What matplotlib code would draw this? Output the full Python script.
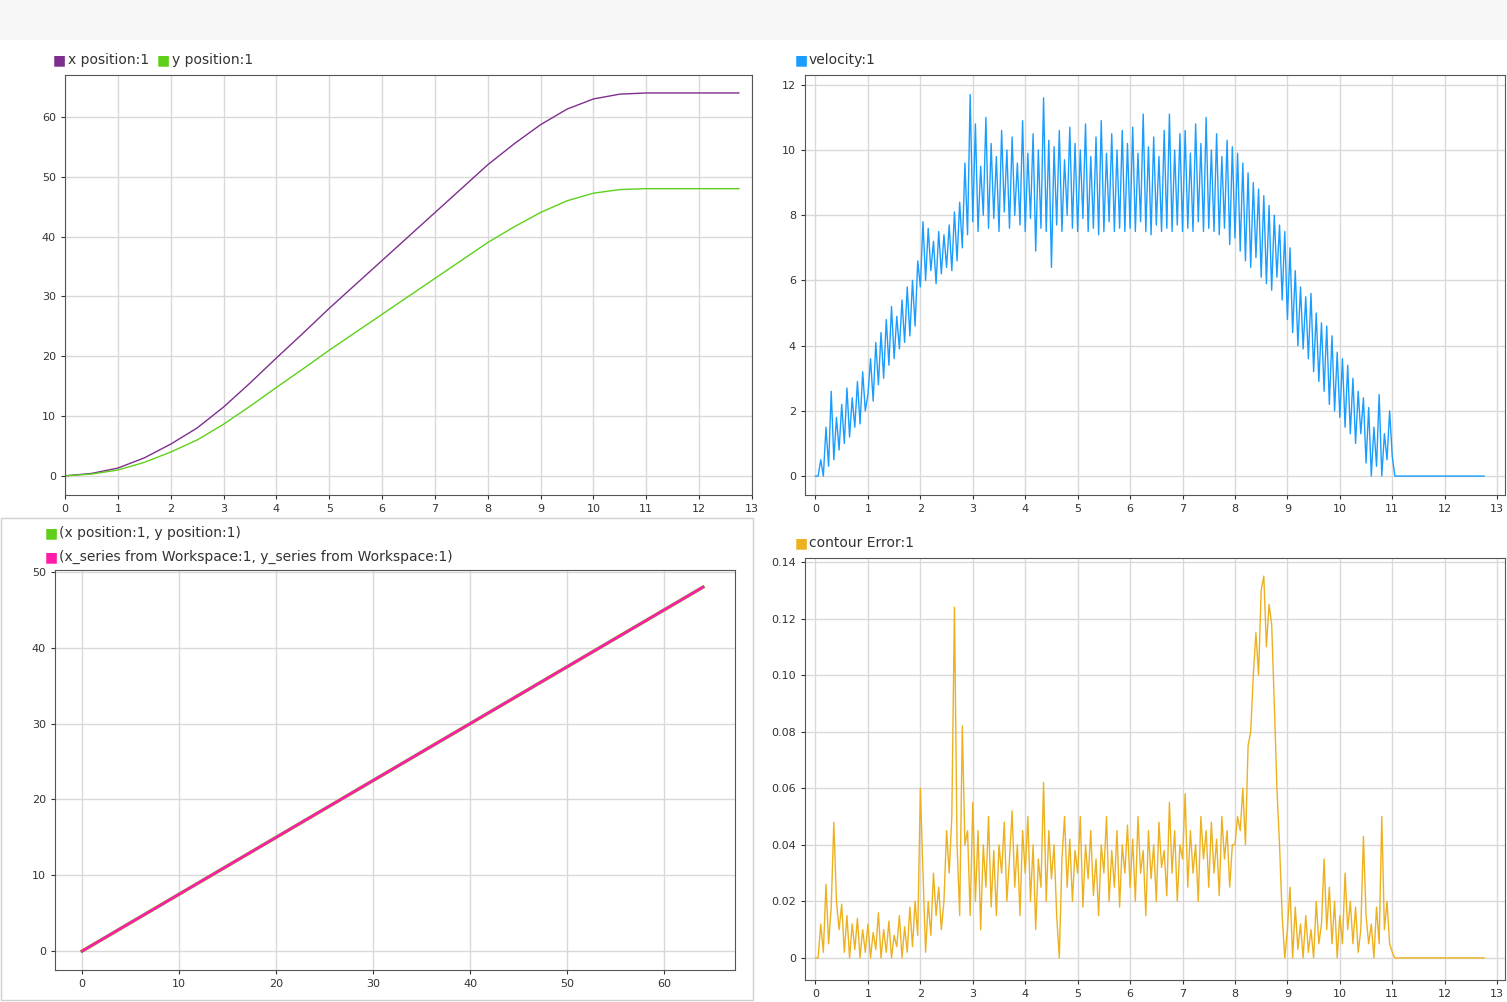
import numpy as np
import matplotlib.pyplot as plt
from matplotlib.patches import Rectangle

# 位置数据 (每0.5秒一个点)
t_pos = [0, 0.5, 1, 1.5, 2, 2.5, 3, 3.5, 4, 4.5, 5, 5.5, 6, 6.5, 7, 7.5, 8, 8.5, 9, 9.5, 10, 10.5, 11, 12.75]
x_pos = [0, 0.4, 1.3, 3, 5.3, 8, 11.5, 15.5, 19.7, 23.8, 28, 32, 36, 40, 44, 48, 52, 55.5, 58.7, 61.3, 63, 63.8, 64, 64]
y_pos = [0, 0.3, 0.975, 2.25, 3.975, 6, 8.625, 11.625, 14.775, 17.85, 21, 24, 27, 30, 33, 36, 39, 41.625, 44.025,
         45.975, 47.25, 47.85, 48, 48]

# 速度 (每0.05秒一个点)
velocity = [
    0, 0, 0.5, 0, 1.5, 0.3, 2.6, 0.5, 1.8, 0.8, 2.2, 1, 2.7, 1.2, 2.4, 1.5, 2.9, 1.6, 3.2, 2.0,
    2.5, 3.6, 2.3, 4.1, 2.8, 4.4, 3.0, 4.8, 3.4, 5.2, 3.6, 4.9, 3.9, 5.4, 4.1, 5.8, 4.3, 6.0, 4.6, 6.6,
    5.8, 7.8, 6.0, 7.6, 6.3, 7.2, 5.9, 7.5, 6.2, 7.4, 6.4, 7.7, 6.3, 8.1, 6.6, 8.4, 7.0, 9.6, 7.4, 11.7,
    7.8, 10.8, 7.5, 9.5, 8.0, 11.0, 7.6, 10.2, 7.9, 9.8, 7.5, 10.6, 8.1, 10.0, 7.6, 10.4, 8.0, 9.6, 7.7, 10.9,
    7.5, 9.9, 7.9, 10.5, 6.9, 10.0, 7.6, 11.6, 7.5, 10.3, 6.4, 10.1, 7.7, 10.6, 7.5, 9.7, 8.0, 10.7, 7.6, 10.2,
    7.5, 10.0, 7.9, 10.8, 7.5, 9.8, 7.6, 10.4, 7.4, 10.9, 7.5, 9.9, 7.8, 10.5, 7.5, 10.0, 7.6, 10.6, 7.5, 10.2,
    7.6, 10.7, 7.5, 9.9, 7.8, 11.1, 7.5, 10.1, 7.4, 10.4, 7.7, 9.8, 7.5, 10.6, 7.6, 11.1, 7.5, 10.0, 7.7, 10.5,
    7.5, 10.6, 7.6, 9.9, 7.5, 10.8, 7.8, 10.2, 7.5, 11.0, 7.6, 10.0, 7.5, 10.5, 7.4, 9.8, 7.6, 10.3, 7.1, 10.1,
    7.3, 9.9, 6.9, 9.6, 6.6, 9.3, 6.4, 9.0, 6.7, 8.8, 6.1, 8.6, 5.9, 8.3, 5.7, 8.0, 6.1, 7.7, 5.4, 7.5,
    4.8, 7.0, 4.4, 6.3, 4.0, 5.8, 3.9, 5.5, 3.6, 5.6, 3.2, 5.0, 2.9, 4.7, 2.6, 4.6, 2.2, 4.3, 2.0, 3.8,
    1.8, 3.6, 1.5, 3.4, 1.3, 3.0, 1.0, 2.6, 1.3, 2.4, 0.4, 2.1, 0, 1.5, 0.3, 2.5, 0, 1.3, 0.5, 2.0,
    0.6, 0, 0, 0, 0, 0, 0, 0, 0, 0, 0, 0, 0, 0, 0, 0, 0, 0, 0, 0,
    0, 0, 0, 0, 0, 0, 0, 0, 0, 0, 0, 0, 0, 0, 0, 0,
]

# 轮廓误差 (每0.05秒一个点)
contour_err = [
    0, 0, 0.012, 0.002, 0.026, 0.005, 0.018, 0.048, 0.02, 0.01, 0.019, 0.002, 0.015, 0, 0.012, 0.003, 0.014, 0, 0.01, 0.002,
    0.012, 0, 0.009, 0.003, 0.016, 0, 0.01, 0.002, 0.013, 0, 0.008, 0.004, 0.015, 0, 0.011, 0.002, 0.018, 0.004, 0.02, 0.008,
    0.06, 0.03, 0.002, 0.02, 0.008, 0.03, 0.015, 0.025, 0.01, 0.02, 0.045, 0.03, 0.05, 0.124, 0.04, 0.015, 0.082, 0.04, 0.045, 0.015,
    0.055, 0.02, 0.045, 0.01, 0.04, 0.025, 0.05, 0.018, 0.038, 0.015, 0.04, 0.03, 0.048, 0.02, 0.035, 0.052, 0.025, 0.04, 0.015, 0.045,
    0.03, 0.05, 0.02, 0.04, 0.01, 0.035, 0.025, 0.062, 0.02, 0.045, 0.028, 0.04, 0.015, 0, 0.035, 0.05, 0.025, 0.042, 0.02, 0.038,
    0.03, 0.05, 0.018, 0.04, 0.028, 0.045, 0.022, 0.035, 0.015, 0.04, 0.03, 0.05, 0.02, 0.038, 0.025, 0.045, 0.018, 0.04, 0.03, 0.047,
    0.025, 0.042, 0.02, 0.05, 0.03, 0.038, 0.015, 0.045, 0.028, 0.04, 0.02, 0.048, 0.032, 0.038, 0.022, 0.055, 0.03, 0.045, 0.02, 0.04,
    0.035, 0.058, 0.025, 0.045, 0.03, 0.04, 0.02, 0.05, 0.035, 0.045, 0.025, 0.048, 0.03, 0.042, 0.022, 0.05, 0.035, 0.045, 0.025, 0.04,
    0.04, 0.05, 0.045, 0.06, 0.04, 0.075, 0.08, 0.1, 0.115, 0.1, 0.13, 0.135, 0.11, 0.125, 0.118, 0.09, 0.06, 0.04, 0.015, 0.0,
    0.01, 0.025, 0, 0.018, 0.003, 0.012, 0, 0.015, 0.002, 0.01, 0, 0.02, 0.005, 0.012, 0.035, 0.01, 0.025, 0.005, 0.02, 0,
    0.015, 0.005, 0.03, 0.01, 0.02, 0.005, 0.018, 0.002, 0.01, 0.043, 0.015, 0.005, 0.012, 0, 0.018, 0.005, 0.05, 0.01, 0.02, 0.005,
    0.002, 0, 0, 0, 0, 0, 0, 0, 0, 0, 0, 0, 0, 0, 0, 0, 0, 0, 0, 0,
    0, 0, 0, 0, 0, 0, 0, 0, 0, 0, 0, 0, 0, 0, 0, 0,
]
t_fast = np.arange(len(velocity)) * 0.05

purple = '#7e2f8e'
green = '#5fd01a'
blue = '#1a9dff'
orange = '#edb120'
pink = '#ff1ca8'

W, H = 1507, 1002
fig = plt.figure(figsize=(W / 100, H / 100), dpi=100, facecolor='white')
fig.patches.append(Rectangle((0, 1 - 40 / H), 1, 40 / H, transform=fig.transFigure,
                             facecolor='#f7f7f7', edgecolor='none'))
fig.patches.append(Rectangle((1 / W, 1 - 1000 / H), 752 / W, 482 / H, transform=fig.transFigure,
                             facecolor='none', edgecolor='#d0d0d0', lw=1))


def make_ax(x0, y0, x1, y1):
    ax = fig.add_axes([x0 / W, 1 - y1 / H, (x1 - x0) / W, (y1 - y0) / H])
    ax.grid(True, color='#d9d9d9', lw=1)
    ax.tick_params(labelsize=8, colors='#333333', length=3)
    for s in ax.spines.values():
        s.set_color('#555555')
    return ax


def legend(ax, items, y_px):
    # 图例: 方块 + 文字, 放在坐标轴上方
    x = ax.get_position().x0 * W - 10
    for i, (label, color) in enumerate(items):
        yy = 1 - (y_px + i * 24) / H
        fig.text(x / W, yy, '\u25a0', color=color, fontsize=10, va='center')
        fig.text((x + 14) / W, yy, label, color='#333333', fontsize=10, va='center')


# 左上: 位置
ax1 = make_ax(65, 75, 752, 495)
ax1.plot(t_pos, x_pos, color=purple, lw=1)
ax1.plot(t_pos, y_pos, color=green, lw=1)
ax1.set_xlim(0, 13)
ax1.set_ylim(-3.2, 67)
ax1.set_xticks(range(14))
ax1.set_yticks(range(0, 61, 10))
fig.text(53 / W, 1 - 60 / H, '\u25a0', color=purple, fontsize=10, va='center')
fig.text(68 / W, 1 - 60 / H, 'x position:1', color='#333333', fontsize=10, va='center')
fig.text(157 / W, 1 - 60 / H, '\u25a0', color=green, fontsize=10, va='center')
fig.text(172 / W, 1 - 60 / H, 'y position:1', color='#333333', fontsize=10, va='center')

# 右上: 速度
ax2 = make_ax(805, 75, 1505, 495)
ax2.plot(t_fast, velocity, color=blue, lw=1)
ax2.set_xlim(-0.2, 13.15)
ax2.set_ylim(-0.58, 12.3)
ax2.set_xticks(range(14))
ax2.set_yticks(range(0, 13, 2))
legend(ax2, [('velocity:1', blue)], 60)

# 左下: x-y 轨迹
ax3 = make_ax(55, 570, 735, 970)
ax3.plot(x_pos, y_pos, color=green, lw=2.5)
ax3.plot(x_pos, y_pos, color=pink, lw=2)
ax3.set_xlim(-2.8, 67.3)
ax3.set_ylim(-2.5, 50.26)
ax3.set_xticks(range(0, 61, 10))
ax3.set_yticks(range(0, 51, 10))
legend(ax3, [('(x position:1, y position:1)', green),
             ('(x_series from Workspace:1, y_series from Workspace:1)', pink)], 533)

# 右下: 轮廓误差
ax4 = make_ax(805, 558, 1505, 980)
ax4.plot(t_fast, contour_err, color=orange, lw=1)
ax4.set_xlim(-0.2, 13.15)
ax4.set_ylim(-0.0078, 0.1414)
ax4.set_xticks(range(14))
ax4.set_yticks(np.arange(0, 0.141, 0.02))
ax4.set_yticklabels(['0', '0.02', '0.04', '0.06', '0.08', '0.10', '0.12', '0.14'])
legend(ax4, [('contour Error:1', orange)], 543)

fig.savefig('out.png', dpi=100)
